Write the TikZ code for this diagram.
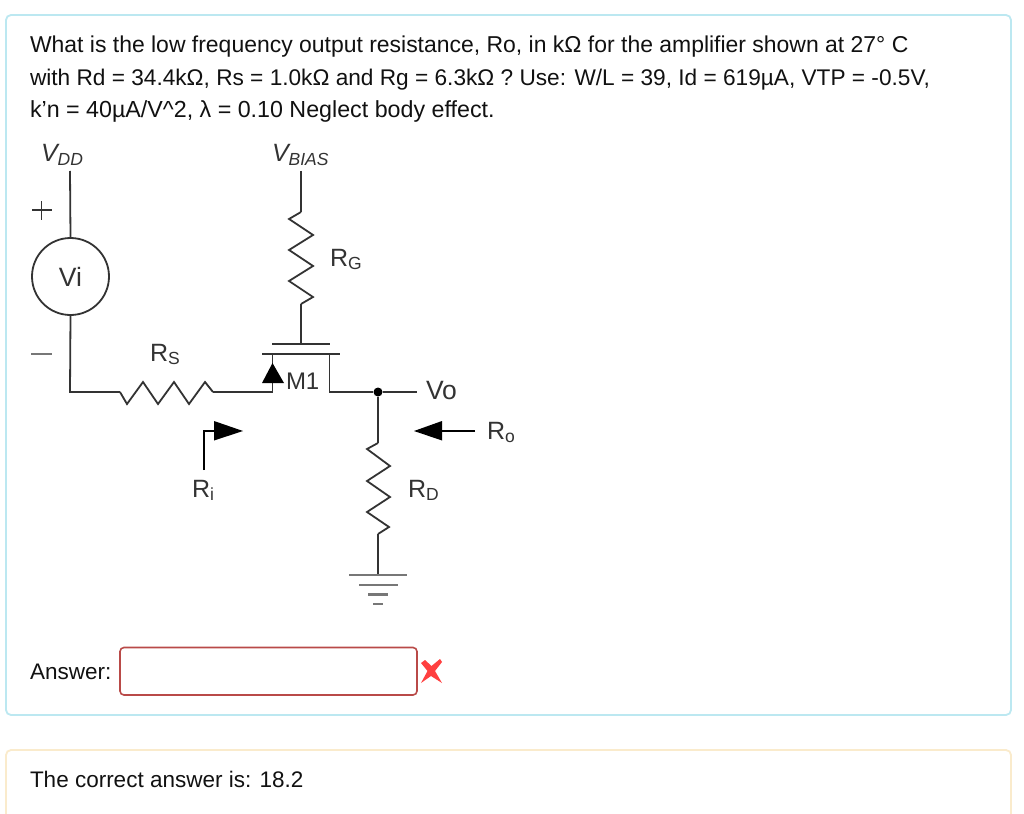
\documentclass[tikz,border=0pt]{standalone}
\usepackage{fontspec}
\setmainfont{Liberation Sans}
\newcommand{\bodyfs}{\fontsize{22.5}{26}\selectfont}
\newcommand{\labfs}{\fontsize{25}{28}\selectfont}
\newcommand{\bigfs}{\fontsize{26.5}{28}\selectfont}
\newcommand{\subfs}{\fontsize{17.5}{20}\selectfont}
\newcommand{\subs}[2]{{\labfs #1}\raisebox{-3.5pt}{\subfs #2}}
\newcommand{\isubs}[2]{{\labfs\itshape #1}\raisebox{-3.5pt}{\subfs\itshape #2}}
\definecolor{wirec}{HTML}{333333}
\definecolor{groundc}{HTML}{777777}
\definecolor{txtc}{HTML}{111111}
\definecolor{cardblue}{HTML}{BCE8F1}
\definecolor{cardyellow}{HTML}{FAEBCC}
\definecolor{boxred}{HTML}{B94A48}
\definecolor{crossred}{HTML}{FF4040}
\tikzset{
  wire/.style={draw=wirec,line width=1.8pt,line join=miter},
  gnd/.style={draw=groundc,line width=2.3pt},
  txt/.style={anchor=base west,inner sep=0pt,outer sep=0pt,text=txtc,font=\bodyfs},
  lab/.style={anchor=base west,inner sep=0pt,outer sep=0pt,text=wirec,font=\labfs},
  card/.style={line width=1.8pt,rounded corners=5pt,fill=white},
  head/.style={fill=black,draw=none}
}
\begin{document}
\begin{tikzpicture}[x=1pt,y=-1pt]
\useasboundingbox (0,0) rectangle (1024,813);
\fill[white] (0,0) rectangle (1024,813);
% cards
\draw[card,draw=cardblue] (6,15) rectangle (1011,715);
\draw[card,draw=cardyellow] (6,830) rectangle (1011,750);
% question
\node[txt,font=\fontsize{22.95}{26}\selectfont] (l1) at (30,53) {What is the low frequency output resistance, Ro, in kΩ for the amplifier shown at 27° C};
\node[txt,font=\fontsize{22.65}{26}\selectfont] (l2) at (30,86) {with Rd = 34.4kΩ, Rs = 1.0kΩ and Rg = 6.3kΩ ? Use: W/L = 39, Id = 619µA, VTP = -0.5V,};
\node[txt,font=\fontsize{23.25}{26}\selectfont] (l3) at (30,118) {k’n = 40µA/V\^{}2, λ = 0.10 Neglect body effect.};
% coordinates
\coordinate (vdd) at (70,171);
\node[circle,draw=wirec,line width=1.8pt,minimum size=77pt,inner sep=0pt,font=\bigfs,text=wirec] (vi) at (70.5,276.5) {Vi};
\coordinate (cornerL) at (70,392);
\coordinate (rsL) at (120,392);
\coordinate (rsR) at (213,392);
\coordinate (srcB) at (272.5,392);
\coordinate (srcT) at (272.5,354);
\coordinate (drnT) at (329.5,354);
\coordinate (drnB) at (329.5,392);
\node[circle,fill=black,inner sep=0pt,minimum size=9pt] (dot) at (378,392) {};
\coordinate (vout) at (417,392);
\coordinate (vbias) at (301,171);
\coordinate (rgT) at (301,212);
\coordinate (rgB) at (301,304);
\coordinate (gate) at (301,344);
\coordinate (rdT) at (378,443);
\coordinate (rdB) at (378,534);
\coordinate (gnd) at (378,575);
% wires
\draw[wire] (vdd) -- (vi.north);
\draw[wire] (vi.south) -- (cornerL) -- (rsL);
\draw[wire] (rsL) -- ++(7,12) -- ++(16,-22) -- ++(15,22) -- ++(16,-22) -- ++(15,22) -- ++(16,-22) -- (rsR);
\draw[wire] (rsR) -- (srcB) -- (srcT);
\draw[wire] (drnT) -- (drnB) -- (dot) -- (vout);
\draw[wire] (vbias) -- (rgT);
\draw[wire] (rgT) -- ++(-12,7) -- ++(24,16) -- ++(-24,15) -- ++(24,16) -- ++(-24,15) -- ++(24,16) -- (rgB);
\draw[wire] (rgB) -- (gate);
\draw[wire] (dot) -- (rdT);
\draw[wire] (rdT) -- ++(-11,6) -- ++(23,17) -- ++(-23,15) -- ++(23,16) -- ++(-23,15) -- ++(22,15) -- (rdB);
\draw[wire] (rdB) -- (gnd);
% MOSFET
\draw[wire] (272,344) -- (330,344);
\draw[wire] (262,354) -- (340,354);
\fill[head] (272.5,363) -- (284,383) -- (262,383) -- cycle;
% ground
\draw[gnd] (349,575) -- (407,575);
\draw[gnd] (359,585) -- (398,585);
\draw[gnd] (368,594.5) -- (388,594.5);
\draw[gnd] (373,604) -- (383,604);
% Ri / Ro arrows
\coordinate (riS) at (204,470);
\coordinate (riC) at (204,431);
\coordinate (riE) at (216,431);
\draw[draw=black,line width=2pt] (riS) -- (riC) -- (riE);
\fill[head] (214,421) -- (243,431) -- (214,440.5) -- cycle;
\coordinate (roS) at (475,431);
\coordinate (roE) at (440,431);
\draw[draw=black,line width=2pt] (roS) -- (roE);
\fill[head] (414,431) -- (442,421) -- (442,440.5) -- cycle;
% plus minus
\draw[draw=wirec,line width=1.6pt] (32,210) -- (52,210) (41.5,201) -- (41.5,220);
\draw[draw=groundc,line width=2pt] (31,354) -- (52,354);
% labels
\node[lab] (lvdd) at (41,162) {\isubs{V}{DD}};
\node[lab] (lvb) at (272,162) {\isubs{V}{BIAS}};
\node[lab] (lrg) at (330,266) {\subs{R}{G}};
\node[lab] (lrs) at (150,361) {\subs{R}{S}};
\node[lab,font=\bigfs] (lm) at (286,389) {\fontsize{24}{26}\selectfont M1};
\node[lab,font=\bigfs] (lvo) at (426,399) {Vo};
\node[lab] (lro) at (487,439) {R\raisebox{-3pt}{\subfs o}};
\node[lab] (lrd) at (408,497) {\subs{R}{D}};
\node[lab] (lri) at (192,497) {R\raisebox{-3pt}{\subfs i}};
% answer
\node[txt] (ans) at (30,679) {Answer:};
\draw[draw=boxred,line width=1.6pt,rounded corners=4pt] (120,647.5) rectangle (417,695);
\fill[crossred] (421,663) -- (425,660) -- (431.5,666) -- (440,659) -- (442,662) -- (435,671) -- (442,683) -- (431,676) -- (421,683) -- (427.5,671) -- cycle;
\node[txt] (correct) at (30,787) {The correct answer is: 18.2};
\end{tikzpicture}
\end{document}
